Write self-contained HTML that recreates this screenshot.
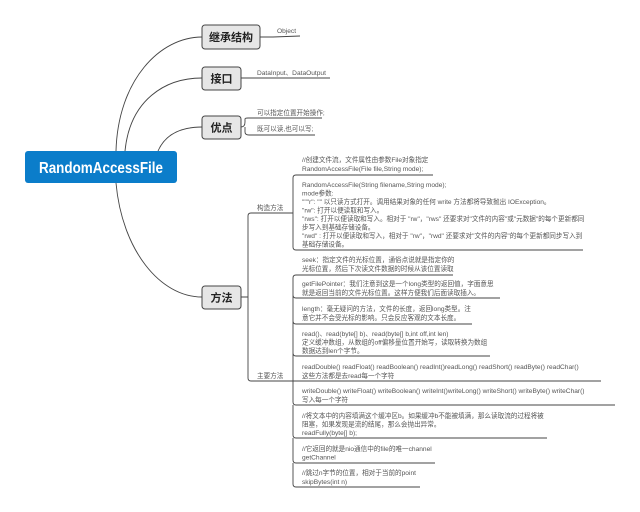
<!DOCTYPE html>
<html><head><meta charset="utf-8"><style>
html,body{margin:0;padding:0;background:#fff;width:640px;height:512px;overflow:hidden}
svg{display:block}
text{font-family:"Liberation Sans","Noto Sans CJK SC",sans-serif;fill:#555}
.s{font-size:6.6px}
.b{font-size:11px;font-weight:bold;fill:#222}
</style></head><body>
<svg width="640" height="512" viewBox="0 0 640 512" xmlns="http://www.w3.org/2000/svg">
<g fill="none" stroke="#444" stroke-width="0.9">
<path d="M116 151 C118 80 160 37 202 37"/>
<path d="M125 151 C130 100 165 78 202 78"/>
<path d="M158 151 C165 135 180 127 202 127"/>
<path d="M116 183 C122 250 160 297 202 297"/>
<path d="M260 37 L273 37 L300 36"/>
<path d="M241 78 L330 78"/>
<path d="M241 127 Q245 127 245 122 L245 119 Q245 118 248 118 L322 118 M245 127 L245 132 Q245 135 249 135 L315 135"/>
<path d="M241 297 L248 297 M248 216 Q248 213 251 213 L293 213 M248 216 L248 378 Q248 381 251 381 L293 381"/>
<path d="M293 213 L293 178 Q293 175 296 175 L433 175 M293 213 L293 247 Q293 250 296 250 L583 250"/>
<path d="M293 381 L293 278 Q293 275 296 275 L453 275 M293 278 L293 295 Q293 298 296 298 L500 298 M293 298 L293 321 Q293 324 296 324 L472 324 M293 324 L293 353 Q293 356 296 356 L490 356 M293 356 L293 381 L601 381 M293 381 L293 402 Q293 405 296 405 L615 405 M293 405 L293 435 Q293 438 296 438 L547 438 M293 438 L293 460 Q293 463 296 463 L435 463 M293 463 L293 484 Q293 487 296 487 L420 487"/>
</g>
<rect x="25" y="151" width="152" height="32" rx="3" fill="#0b7dca"/>
<text x="101" y="173" text-anchor="middle" style="font-size:16px;font-weight:bold;fill:#fff" textLength="124" lengthAdjust="spacingAndGlyphs">RandomAccessFile</text>
<g fill="#e6e6e6" stroke="#444" stroke-width="1">
<rect x="202" y="25" width="58" height="24" rx="3"/>
<rect x="202" y="67" width="39" height="23" rx="3"/>
<rect x="202" y="116" width="39" height="23" rx="3"/>
<rect x="202" y="286" width="39" height="23" rx="3"/>
</g>
<text class="b" x="231" y="41" text-anchor="middle">继承结构</text>
<text class="b" x="221.5" y="82.5" text-anchor="middle">接口</text>
<text class="b" x="221.5" y="131.5" text-anchor="middle">优点</text>
<text class="b" x="221.5" y="301.5" text-anchor="middle">方法</text>
<text class="s" x="277" y="33">Object</text>
<text class="s" x="257" y="75">DataInput、DataOutput</text>
<text class="s" x="257" y="115">可以指定位置开始操作;</text>
<text class="s" x="257" y="131">既可以读,也可以写;</text>
<text class="s" x="257" y="210">构造方法</text>
<text class="s" x="257" y="378">主要方法</text>
<g class="s">
<text class="s" x="302" y="162">//创建文件流，文件属性由参数File对象指定</text>
<text class="s" x="302" y="171">RandomAccessFile(File file,String mode);</text>
<text class="s" x="302" y="187">RandomAccessFile(String filename,String mode);</text>
<text class="s" x="302" y="195.5">mode参数:</text>
<text class="s" x="302" y="204">"""r": "" 以只读方式打开。调用结果对象的任何 write 方法都将导致抛出 IOException。</text>
<text class="s" x="302" y="212.5">"rw": 打开以便读取和写入。</text>
<text class="s" x="302" y="221">"rws": 打开以便读取和写入。相对于 "rw"，"rws" 还要求对"文件的内容"或"元数据"的每个更新都同</text>
<text class="s" x="302" y="229.5">步写入到基础存储设备。</text>
<text class="s" x="302" y="238">"rwd" : 打开以便读取和写入，相对于 "rw"，"rwd" 还要求对"文件的内容"的每个更新都同步写入到</text>
<text class="s" x="302" y="246.5">基础存储设备。</text>
<text class="s" x="302" y="262">seek：指定文件的光标位置，通俗点说就是指定你的</text>
<text class="s" x="302" y="271">光标位置，然后下次读文件数据的时候从该位置读取</text>
<text class="s" x="302" y="286">getFilePointer：我们注意到这是一个long类型的返回值，字面意思</text>
<text class="s" x="302" y="295">就是返回当前的文件光标位置。这样方便我们后面读取插入。</text>
<text class="s" x="302" y="311">length：毫无疑问的方法，文件的长度，返回long类型。注</text>
<text class="s" x="302" y="320">意它并不会受光标的影响。只会反应客观的文本长度。</text>
<text class="s" x="302" y="336">read()、read(byte[] b)、read(byte[] b,int off,int len)</text>
<text class="s" x="302" y="344.5">定义缓冲数组，从数组的off偏移量位置开始写，读取转换为数组</text>
<text class="s" x="302" y="353">数据达到len个字节。</text>
<text class="s" x="302" y="369">readDouble() readFloat() readBoolean() readInt()readLong() readShort() readByte() readChar()</text>
<text class="s" x="302" y="378">这些方法都是去read每一个字符</text>
<text class="s" x="302" y="393">writeDouble() writeFloat() writeBoolean() writeInt()writeLong() writeShort() writeByte() writeChar()</text>
<text class="s" x="302" y="402">写入每一个字符</text>
<text class="s" x="302" y="418">//将文本中的内容填满这个缓冲区b。如果缓冲b不能被填满，那么读取流的过程将被</text>
<text class="s" x="302" y="426.5">阻塞，如果发现是流的结尾，那么会抛出异常。</text>
<text class="s" x="302" y="435">readFully(byte[] b);</text>
<text class="s" x="302" y="451">//它返回的就是nio通信中的file的唯一channel</text>
<text class="s" x="302" y="459.5">getChannel</text>
<text class="s" x="302" y="475">//跳过n字节的位置，相对于当前的point</text>
<text class="s" x="302" y="484">skipBytes(int n)</text>
</g>
</svg>
</body></html>
